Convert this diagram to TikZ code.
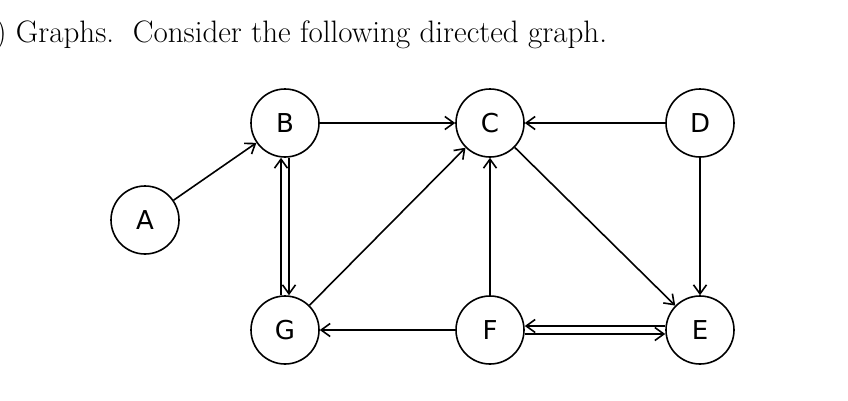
\documentclass[tikz,border=0pt]{standalone}
\usepackage{fontspec}
\newfontfamily\nodefont{DejaVu Sans}
\usetikzlibrary{arrows.meta}
\begin{document}
\begin{tikzpicture}[x=1pt,y=-1pt,
  vert/.style={circle,draw,line width=1.6pt,minimum size=68pt,inner sep=0pt,font=\nodefont\fontsize{26}{30}\selectfont},
  edge/.style={line width=1.6pt,-{Straight Barb[length=9pt,width=13pt,line width=1.6pt]}}]
\useasboundingbox (0,0) rectangle (848,400);
\node[anchor=west,font=\fontsize{31}{36}\selectfont] (t) at (-8,35) {) Graphs.\ \ Consider the following directed graph.};
\node[vert] (A) at (145,220) {A};
\node[vert] (B) at (285,123) {B};
\node[vert] (C) at (490,123) {C};
\node[vert] (D) at (700,123) {D};
\node[vert] (G) at (285,330) {G};
\node[vert] (F) at (490,330) {F};
\node[vert] (E) at (700,330) {E};
\draw[edge] (A) -- (B);
\draw[edge] (B) -- (C);
\draw[edge] (D) -- (C);
\draw[edge] (D) -- (E);
\draw[edge] (C) -- (E);
\draw[edge] (G) -- (C);
\draw[edge] (F) -- (C);
\draw[edge] (F) -- (G);
\draw[edge] ([yshift=4pt]E.west) -- ([yshift=4pt]F.east);
\draw[edge] ([yshift=-4pt]F.east) -- ([yshift=-4pt]E.west);
\draw[edge] ([xshift=4pt]B.south) -- ([xshift=4pt]G.north);
\draw[edge] ([xshift=-4pt]G.north) -- ([xshift=-4pt]B.south);
\end{tikzpicture}
\end{document}
